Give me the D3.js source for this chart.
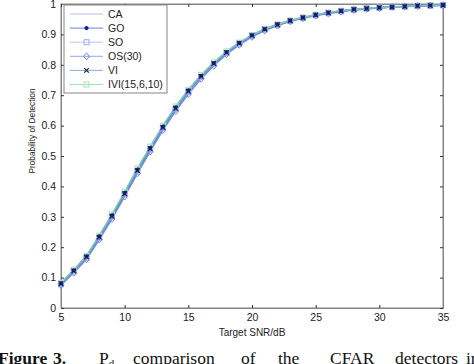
<!DOCTYPE html>
<html>
<head>
<meta charset="utf-8">
<script src="https://cdn.jsdelivr.net/npm/d3@7"></script>
<style>
  body { margin: 0; background: #fff; }
  svg { display: block; }
</style>
</head>
<body>
<script>
// target SNR in dB
const snr = [5, 6, 7, 8, 9, 10, 11, 12, 13, 14, 15, 16, 17, 18, 19, 20,
  21, 22, 23, 24, 25, 26, 27, 28, 29, 30, 31, 32, 33, 34, 35];

// probability of detection for each detector
const ca = [0.080, 0.123, 0.168, 0.234, 0.303, 0.377, 0.453, 0.525, 0.595, 0.658, 0.714, 0.763, 0.805, 0.841, 0.871, 0.897,
  0.917, 0.932, 0.945, 0.955, 0.964, 0.971, 0.977, 0.982, 0.985, 0.988, 0.990, 0.992, 0.994, 0.995, 0.996];
const go = [0.081, 0.124, 0.170, 0.236, 0.305, 0.379, 0.455, 0.527, 0.597, 0.660, 0.716, 0.764, 0.806, 0.842, 0.872, 0.897,
  0.917, 0.933, 0.945, 0.955, 0.964, 0.971, 0.977, 0.982, 0.985, 0.988, 0.990, 0.992, 0.994, 0.995, 0.996];
const so = [0.078, 0.120, 0.165, 0.230, 0.299, 0.373, 0.449, 0.521, 0.591, 0.654, 0.710, 0.760, 0.802, 0.839, 0.869, 0.895,
  0.916, 0.931, 0.944, 0.954, 0.963, 0.970, 0.976, 0.981, 0.985, 0.988, 0.990, 0.992, 0.994, 0.995, 0.996];
const os30 = [0.076, 0.116, 0.160, 0.225, 0.293, 0.367, 0.443, 0.515, 0.585, 0.648, 0.704, 0.754, 0.797, 0.835, 0.866, 0.892,
  0.913, 0.929, 0.943, 0.953, 0.962, 0.969, 0.975, 0.980, 0.984, 0.987, 0.990, 0.992, 0.993, 0.995, 0.996];
const vi = [0.080, 0.122, 0.168, 0.233, 0.302, 0.376, 0.452, 0.524, 0.594, 0.657, 0.713, 0.762, 0.804, 0.840, 0.871, 0.896,
  0.917, 0.932, 0.945, 0.955, 0.964, 0.971, 0.977, 0.982, 0.985, 0.988, 0.990, 0.992, 0.994, 0.995, 0.996];
const ivi = [0.082, 0.126, 0.172, 0.238, 0.308, 0.383, 0.459, 0.531, 0.600, 0.663, 0.718, 0.767, 0.808, 0.844, 0.873, 0.898,
  0.918, 0.933, 0.946, 0.956, 0.965, 0.972, 0.978, 0.982, 0.986, 0.988, 0.990, 0.992, 0.994, 0.995, 0.996];

const names = ['CA', 'GO', 'SO', 'OS(30)', 'VI', 'IVI(15,6,10)'];
const xTicks = [5, 10, 15, 20, 25, 30, 35];
const yTicks = [0, 0.1, 0.2, 0.3, 0.4, 0.5, 0.6, 0.7, 0.8, 0.9, 1];

const series = [
  { name: names[0], vals: ca, color: '#8ea2e6', marker: 'none' },
  { name: names[1], vals: go, color: '#2a4fc8', marker: 'dot', mcolor: '#10208a' },
  { name: names[2], vals: so, color: '#9aaaf2', marker: 'square', mcolor: '#a0acf2' },
  { name: names[3], vals: os30, color: '#6a80e8', marker: 'diamond', mcolor: '#7888f0' },
  { name: names[4], vals: vi, color: '#5a8fc0', marker: 'x', mcolor: '#1a2050' },
  { name: names[5], vals: ivi, color: '#7fd0b0', marker: 'square', mcolor: '#a8e4b0' }
];

let width = 474, height = 364;
let m = { left: 61, right: 443, top: 4, bottom: 308 };

let svg = d3.select('body').append('svg')
  .attr('width', width).attr('height', height);

let x = d3.scaleLinear().domain([5, 35]).range([m.left, m.right]);
let y = d3.scaleLinear().domain([0, 1]).range([m.bottom, m.top]);

const axisColor = '#858585';
const font = 'Liberation Sans, Arial, sans-serif';

// box
svg.append('rect')
  .attr('x', m.left).attr('y', m.top)
  .attr('width', m.right - m.left).attr('height', m.bottom - m.top)
  .attr('fill', 'none').attr('stroke', axisColor).attr('stroke-width', 1);

// axes with inward ticks
let xAxis = svg.append('g').attr('transform', `translate(0,${m.bottom})`)
  .call(d3.axisBottom(x).tickValues(xTicks).tickSizeInner(-3).tickSizeOuter(0).tickPadding(6));
let yAxis = svg.append('g').attr('transform', `translate(${m.left},0)`)
  .call(d3.axisLeft(y).tickValues(yTicks).tickFormat(d3.format('~g')).tickSizeInner(-3).tickSizeOuter(0).tickPadding(5));
let xTop = svg.append('g').attr('transform', `translate(0,${m.top})`)
  .call(d3.axisTop(x).tickValues(xTicks).tickSizeInner(-3).tickSizeOuter(0).tickFormat(''));
let yRight = svg.append('g').attr('transform', `translate(${m.right},0)`)
  .call(d3.axisRight(y).tickValues(yTicks).tickSizeInner(-3).tickSizeOuter(0).tickFormat(''));

[xAxis, yAxis, xTop, yRight].forEach(g => {
  g.select('.domain').attr('stroke', axisColor);
  g.selectAll('.tick line').attr('stroke', '#333');
  g.selectAll('text').attr('fill', '#222').style('font-family', font).style('font-size', '10.5px');
});
xAxis.selectAll('text').attr('dy', '0.71em');

// curves
let line = d3.line().x((d, i) => x(snr[i])).y(d => y(d));

series.forEach(s => {
  svg.append('path')
    .datum(s.vals)
    .attr('d', line)
    .attr('fill', 'none')
    .attr('stroke', s.color)
    .attr('stroke-width', 1.6)
    .attr('stroke-opacity', 0.9);
});

function drawMarker(g, type, cx, cy, color) {
  if (type === 'dot') {
    g.append('circle').attr('cx', cx).attr('cy', cy).attr('r', 2.1).attr('fill', color);
  } else if (type === 'square') {
    g.append('rect').attr('x', cx - 2.5).attr('y', cy - 2.5).attr('width', 5).attr('height', 5)
      .attr('fill', 'none').attr('stroke', color).attr('stroke-width', 1);
  } else if (type === 'diamond') {
    g.append('path').attr('d', `M${cx},${cy - 3.5}L${cx + 3},${cy}L${cx},${cy + 3.5}L${cx - 3},${cy}Z`)
      .attr('fill', 'none').attr('stroke', color).attr('stroke-width', 1);
  } else if (type === 'x') {
    g.append('path').attr('d', `M${cx - 2.3},${cy - 2.3}L${cx + 2.3},${cy + 2.3}M${cx - 2.3},${cy + 2.3}L${cx + 2.3},${cy - 2.3}`)
      .attr('stroke', color).attr('stroke-width', 1.2);
  }
}

// markers: light ones first, dark on top
const order = [5, 2, 3, 1, 4];
order.forEach(k => {
  let s = series[k];
  let g = svg.append('g');
  s.vals.forEach((v, i) => drawMarker(g, s.marker, x(snr[i]), y(v), s.mcolor));
});

// legend
let lg = svg.append('g');
lg.append('rect')
  .attr('x', 64).attr('y', 5).attr('width', 103).attr('height', 88)
  .attr('fill', '#fff').attr('stroke', axisColor).attr('stroke-width', 1);
series.forEach((s, i) => {
  let ly = 14 + i * 14.1;
  lg.append('line').attr('x1', 70).attr('x2', 103).attr('y1', ly).attr('y2', ly)
    .attr('stroke', s.color).attr('stroke-width', 1).attr('stroke-opacity', 0.7);
  drawMarker(lg, s.marker, 86.5, ly, s.mcolor);
  lg.append('text').attr('x', 108).attr('y', ly).attr('dy', '0.36em')
    .attr('fill', '#222').style('font-family', font).style('font-size', '10.5px')
    .text(s.name);
});

// axis labels
svg.append('text')
  .attr('x', (m.left + m.right) / 2).attr('y', 336)
  .attr('text-anchor', 'middle').attr('fill', '#222')
  .style('font-family', font).style('font-size', '10px')
  .text('Target SNR/dB');

svg.append('text')
  .attr('transform', 'translate(35,131) rotate(-90)')
  .attr('text-anchor', 'middle').attr('fill', '#222')
  .attr('textLength', 85).attr('lengthAdjust', 'spacingAndGlyphs')
  .style('font-family', font).style('font-size', '9.5px')
  .text('Probability of Detection');

// caption, justified like the paper
const serif = 'Liberation Serif, Times New Roman, serif';
const capWords = [
  { t: 'Figure', x: -2, bold: true },
  { t: '3.', x: 53, bold: true },
  { t: 'comparison', x: 133 },
  { t: 'of', x: 241 },
  { t: 'the', x: 278 },
  { t: 'CFAR', x: 330 },
  { t: 'detectors', x: 395 },
  { t: 'in', x: 466 }
];
let capG = svg.append('g').attr('fill', '#111')
  .style('font-family', serif).style('font-size', '17.5px');
capWords.forEach(c => {
  capG.append('text').attr('x', c.x).attr('y', 364)
    .style('font-weight', c.bold ? 'bold' : 'normal')
    .text(c.t);
});
let pd = capG.append('text').attr('x', 99).attr('y', 364);
pd.append('tspan').text('P');
pd.append('tspan').attr('dy', 3).style('font-size', '11px').text('d');
</script>
</body>
</html>
